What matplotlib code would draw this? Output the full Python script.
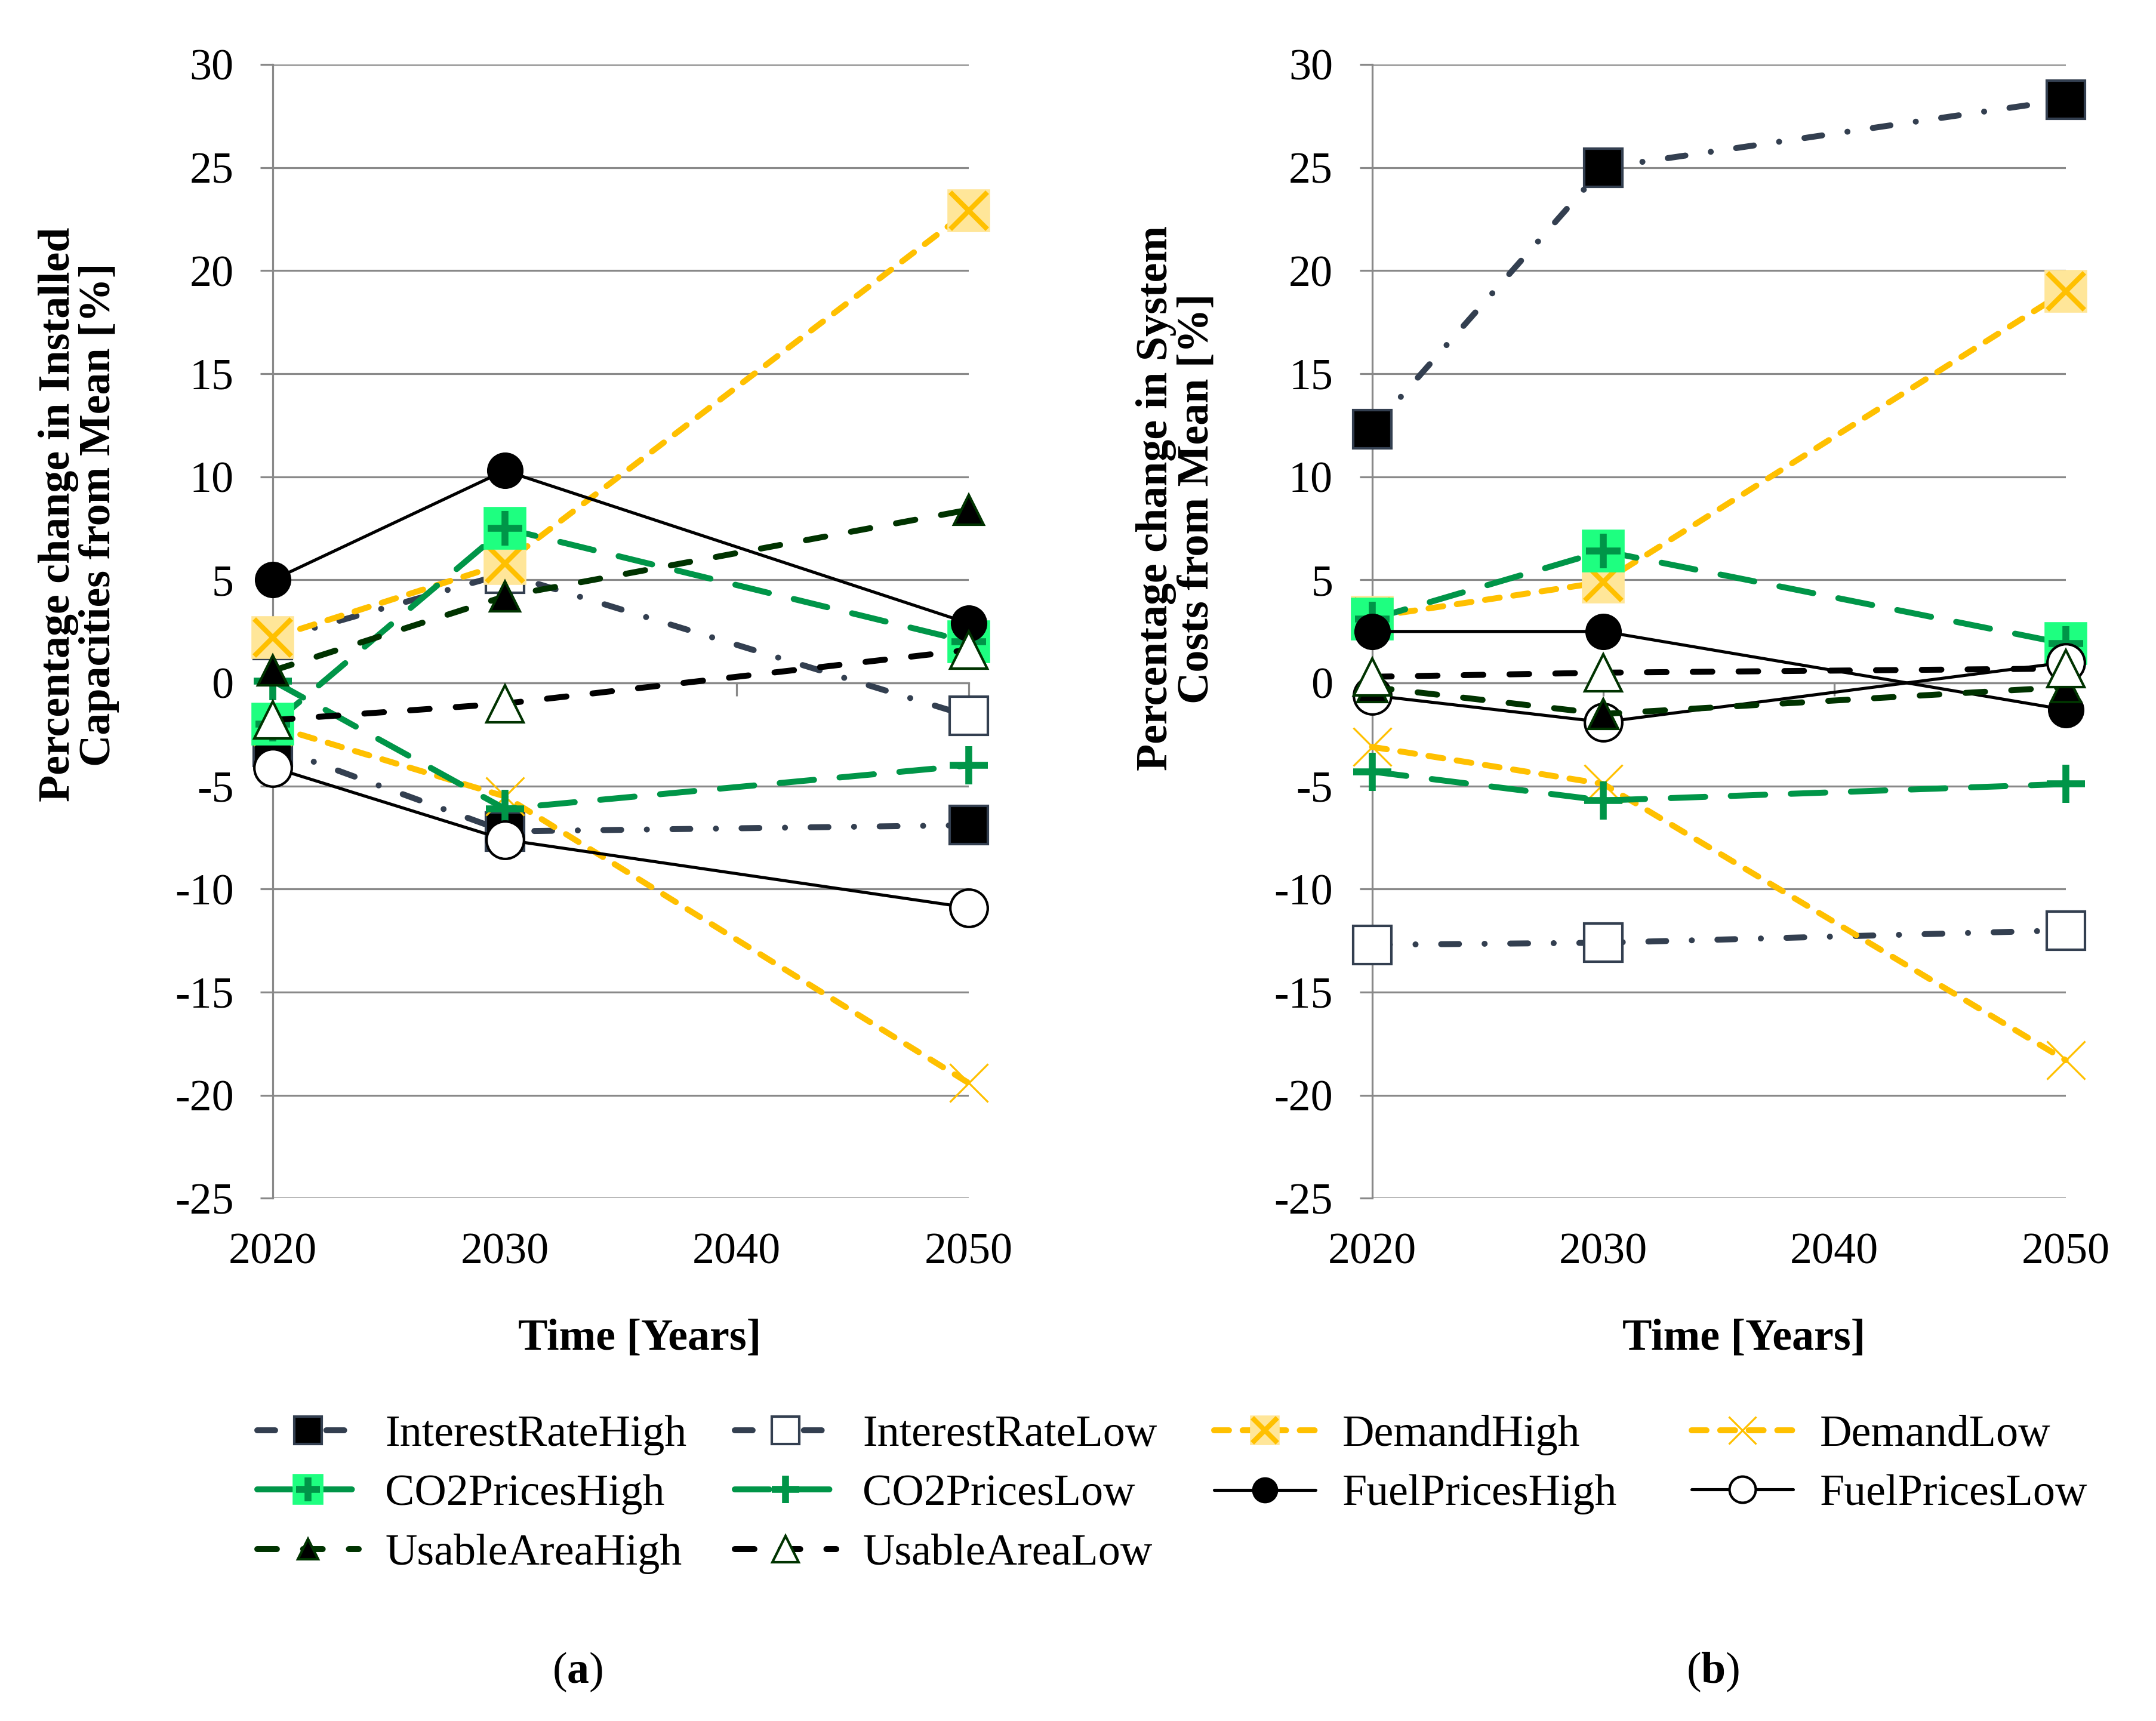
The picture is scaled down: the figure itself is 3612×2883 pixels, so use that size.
import matplotlib
matplotlib.use("Agg")
import matplotlib.pyplot as plt
from matplotlib.lines import Line2D
from matplotlib.legend_handler import HandlerTuple

plt.rcParams['font.family'] = ['Liberation Serif', 'DejaVu Serif']
plt.rcParams['axes.unicode_minus'] = False
plt.rcParams['mathtext.fontset'] = 'custom'
plt.rcParams['mathtext.rm'] = 'Liberation Serif'
plt.rcParams['mathtext.bf'] = 'Liberation Serif:bold'

## data
years = [2020, 2030, 2050]
year_ticks = [2020, 2030, 2040, 2050]
y_ticks = [30, 25, 20, 15, 10, 5, 0, -5, -10, -15, -20, -25]
y_tick_labels = ["30", "25", "20", "15", "10", "5", "0", "-5", "-10", "-15", "-20", "-25"]

names = ["InterestRateHigh", "InterestRateLow", "DemandHigh", "DemandLow",
         "CO2PricesHigh", "CO2PricesLow", "FuelPricesHigh", "FuelPricesLow",
         "UsableAreaHigh", "UsableAreaLow"]

# (a) installed capacities, % change from mean
cap_interest_high = [-3.1, -7.2, -6.9]
cap_interest_low = [2.1, 5.3, -1.6]
cap_demand_high = [2.2, 5.8, 22.9]
cap_demand_low = [-2.1, -5.5, -19.4]
cap_co2_high = [-2.0, 7.5, 2.0]
cap_co2_low = [0.1, -6.1, -4.0]
cap_fuel_high = [5.0, 10.3, 2.9]
cap_fuel_low = [-4.1, -7.6, -10.9]
cap_area_high = [0.6, 4.2, 8.4]
cap_area_low = [-1.8, -1.0, 1.6]

# (b) system costs, % change from mean
cost_interest_high = [12.3, 25.0, 28.3]
cost_interest_low = [-12.7, -12.6, -12.0]
cost_demand_high = [3.2, 4.9, 19.0]
cost_demand_low = [-3.1, -4.9, -18.3]
cost_co2_high = [3.1, 6.4, 1.9]
cost_co2_low = [-4.3, -5.7, -4.9]
cost_fuel_high = [2.5, 2.5, -1.3]
cost_fuel_low = [-0.6, -1.9, 1.0]
cost_area_high = [-0.2, -1.5, -0.2]
cost_area_low = [0.3, 0.5, 0.7]

cap_data = [cap_interest_high, cap_interest_low, cap_demand_high, cap_demand_low,
            cap_co2_high, cap_co2_low, cap_fuel_high, cap_fuel_low,
            cap_area_high, cap_area_low]
cost_data = [cost_interest_high, cost_interest_low, cost_demand_high, cost_demand_low,
             cost_co2_high, cost_co2_low, cost_fuel_high, cost_fuel_low,
             cost_area_high, cost_area_low]

## styles
slate = '#333F50'
yellow = '#FFC000'
green = '#009548'
bright = '#1EFF80'
dkgreen = '#003300'
grid_c = '#898989'
dashdot = (0, (3, 4.3, 0.01, 4.3))
shortdash = (0, (2.5, 2.3))
longdash = (0, (5.8, 4.3))
dash = (0, (3.3, 4.4))

styles = {
    "InterestRateHigh": dict(color=slate, lw=3.1, ls=dashdot, marker='s', ms=20, mfc='black', mec=slate, mew=1.3),
    "InterestRateLow": dict(color=slate, lw=3.1, ls=dashdot, marker='s', ms=20, mfc='white', mec=slate, mew=1.3),
    "DemandHigh": dict(color=yellow, lw=3.1, ls=shortdash, marker='s', ms=21.5, mfc='#FFE699', mec='#FFE699', mew=0.5),
    "DemandLow": dict(color=yellow, lw=3.1, ls=shortdash, marker='x', ms=20, mfc='none', mec=yellow, mew=1.0),
    "CO2PricesHigh": dict(color=green, lw=3.1, ls=longdash, marker='s', ms=22, mfc=bright, mec=bright, mew=0.5),
    "CO2PricesLow": dict(color=green, lw=3.1, ls=longdash, marker='+', ms=20, mfc='none', mec=green, mew=3.6),
    "FuelPricesHigh": dict(color='black', lw=1.6, ls='-', marker='o', ms=18, mfc='black', mec='black', mew=1.0),
    "FuelPricesLow": dict(color='black', lw=1.6, ls='-', marker='o', ms=19.5, mfc='white', mec='black', mew=1.3),
    "UsableAreaHigh": dict(color=dkgreen, lw=3.1, ls=dash, marker='^', ms=15.5, mfc='black', mec=dkgreen, mew=1.3),
    "UsableAreaLow": dict(color='black', lw=3.1, ls=dash, marker='^', ms=19.5, mfc='white', mec=dkgreen, mew=1.3),
}
overlays = {
    "DemandHigh": dict(marker='x', ms=19, mec=yellow, mew=2.6),
    "CO2PricesHigh": dict(marker='+', ms=18, mec=green, mew=3.6),
}

FS = 23

fig = plt.figure(figsize=(3612 / 231.5, 2883 / 231.5), dpi=231.5)
ax1 = fig.add_axes([0.1266, 0.3037, 0.3226, 0.6588])
ax2 = fig.add_axes([0.6364, 0.3037, 0.3217, 0.6588])


def draw_panel(ax, data):
    for i, (name, vals) in enumerate(zip(names, data)):
        st = styles[name]
        ax.plot(years, vals, dash_capstyle='round', solid_capstyle='round',
                clip_on=False, zorder=3 + i, **st)
        if name in overlays:
            ax.plot(years, vals, ls='none', clip_on=False, zorder=3 + i, **overlays[name])
    ax.set_xlim(2020, 2050)
    ax.set_ylim(-25, 30)
    ax.set_yticks(y_ticks)
    ax.set_yticklabels(y_tick_labels)
    ax.yaxis.grid(True, color=grid_c, lw=1.0)
    ax.set_axisbelow(True)
    for s in ['top', 'right']:
        ax.spines[s].set_visible(False)
    ax.spines['left'].set_color(grid_c)
    ax.spines['left'].set_linewidth(1.0)
    ax.spines['bottom'].set_position(('data', 0))
    ax.spines['bottom'].set_color(grid_c)
    ax.spines['bottom'].set_linewidth(1.0)
    ax.tick_params(axis='y', length=6.6, width=1.0, color=grid_c, pad=13.8, labelsize=FS)
    ax.set_xticks(year_ticks)
    ax.tick_params(axis='x', length=6.7, width=1.0, color=grid_c, labelbottom=False)
    sec = ax.secondary_xaxis('bottom')
    sec.set_xticks(year_ticks)
    sec.set_xticklabels([str(y) for y in year_ticks])
    sec.spines['bottom'].set_visible(False)
    sec.tick_params(length=0, pad=18, labelsize=FS)


draw_panel(ax1, cap_data)
draw_panel(ax2, cost_data)

fig.text(0.0365, 0.701, "Percentage change in Installed\nCapacities from Mean [%]",
         rotation=90, ha='center', va='center', ma='center', fontsize=FS,
         fontweight='bold', linespacing=1.0)
fig.text(0.5457, 0.7104, "Percentage change in System\nCosts from Mean [%]",
         rotation=90, ha='center', va='center', ma='center', fontsize=FS,
         fontweight='bold', linespacing=1.0)
fig.text(0.2968, 0.222, "Time [Years]", ha='center', va='center', fontsize=FS, fontweight='bold')
fig.text(0.8088, 0.222, "Time [Years]", ha='center', va='center', fontsize=FS, fontweight='bold')
fig.text(0.268, 0.0285, r"($\mathbf{a}$)", ha='center', va='center', fontsize=FS)
fig.text(0.7946, 0.0285, r"($\mathbf{b}$)", ha='center', va='center', fontsize=FS)

# legend, 4 columns laid out like the original
handles = {}
for name in names:
    h = Line2D([], [], dash_capstyle='round', solid_capstyle='round', **styles[name])
    if name in overlays:
        h = (h, Line2D([], [], ls='none', **overlays[name]))
    handles[name] = h

columns = [["InterestRateHigh", "CO2PricesHigh", "UsableAreaHigh"],
           ["InterestRateLow", "CO2PricesLow", "UsableAreaLow"],
           ["DemandHigh", "FuelPricesHigh"],
           ["DemandLow", "FuelPricesLow"]]
col_x = [0.1193, 0.3408, 0.5631, 0.7846]
for cx, col in zip(col_x, columns):
    fig.legend([handles[n] for n in col], col, loc='upper left',
               bbox_to_anchor=(cx, 0.178), frameon=False, fontsize=FS,
               borderpad=0, borderaxespad=0, handlelength=2.3, handletextpad=0.6,
               labelspacing=0.43, markerscale=0.7,
               handler_map={tuple: HandlerTuple(ndivide=1)})

fig.savefig("out.png", dpi=231.5)
